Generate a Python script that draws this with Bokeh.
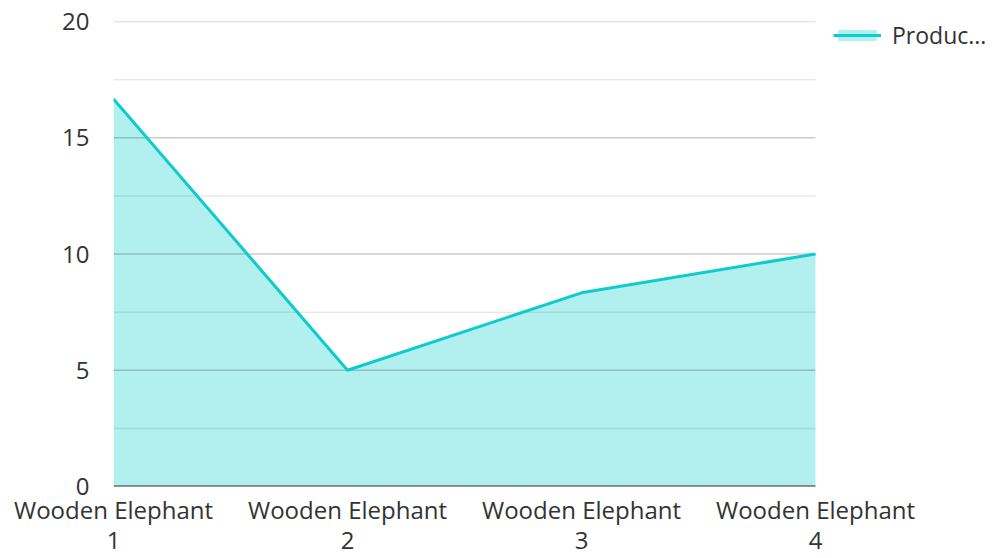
from bokeh.plotting import figure
from bokeh.models import (ColumnDataSource, FixedTicker, Range1d, Legend, LegendItem)
from bokeh.embed import file_html
from bokeh.resources import INLINE

categories = ["Wooden Elephant\n1", "Wooden Elephant\n2", "Wooden Elephant\n3", "Wooden Elephant\n4"]
values = [16.67, 5.0, 8.33, 10.0]
series_name = "Produc..."
y_ticks = [0, 5, 10, 15, 20]
y_minor = [2.5, 7.5, 12.5, 17.5]

FONT = "Open Sans"
TXT = "#333333"
LINE = "#0fcccc"
FILL = "#b2efef"

W, H = 1002, 558
LEFT, TOP, BOTTOM = 113, 21, 70
PLOT_W = 702  # pixel width from first to last category

xs = list(range(len(categories)))
x_last = xs[-1]
frame_w = W - LEFT
x_end = x_last * frame_w / PLOT_W

src = ColumnDataSource(dict(x=xs, y=values, y0=[0] * len(values)))

p = figure(width=W, height=H, output_backend="svg", toolbar_location=None,
           x_range=Range1d(0, x_end), y_range=Range1d(y_ticks[0], y_ticks[-1]),
           min_border_left=LEFT, min_border_right=0, min_border_top=TOP,
           min_border_bottom=BOTTOM)
p.outline_line_color = None
p.background_fill_color = "white"
p.xgrid.grid_line_color = None
p.ygrid.grid_line_color = None

area = p.varea(x="x", y1="y0", y2="y", source=src, fill_color=FILL, fill_alpha=1.0)

# grid lines limited to the category span
p.segment(x0=[xs[0]] * len(y_minor), x1=[x_last] * len(y_minor), y0=y_minor, y1=y_minor,
          line_color="black", line_alpha=0.09, line_width=1.5)
p.segment(x0=[xs[0]] * (len(y_ticks) - 1), x1=[x_last] * (len(y_ticks) - 1),
          y0=y_ticks[1:], y1=y_ticks[1:], line_color="black", line_alpha=0.2, line_width=1.5)
# baseline (x axis line)
p.segment(x0=[xs[0]], x1=[x_last], y0=[y_ticks[0]], y1=[y_ticks[0]],
          line_color="#333333", line_width=2)

line = p.line(x="x", y="y", source=src, line_color=LINE, line_width=3)

# axes
p.xaxis.ticker = FixedTicker(ticks=xs)
p.xaxis.major_label_overrides = {i: c for i, c in zip(xs, categories)}
p.xaxis.axis_line_color = None
p.xaxis.major_tick_line_color = None
p.xaxis.minor_tick_line_color = None
p.xaxis.major_label_standoff = 0
p.xaxis.major_label_text_font = FONT
p.xaxis.major_label_text_font_size = "24px"
p.xaxis.major_label_text_line_height = 0.92
p.xaxis.major_label_text_color = TXT

p.yaxis.ticker = FixedTicker(ticks=y_ticks)
p.yaxis.axis_line_color = None
p.yaxis.major_tick_line_color = None
p.yaxis.minor_tick_line_color = None
p.yaxis.major_label_standoff = 18
p.yaxis.major_label_text_font = FONT
p.yaxis.major_label_text_font_size = "24px"
p.yaxis.major_label_text_color = TXT

legend = Legend(items=[LegendItem(label=series_name, renderers=[area, line])],
                location=(PLOT_W + 18, 435))
legend.border_line_color = None
legend.background_fill_alpha = 0
legend.padding = 0
legend.margin = 0
legend.glyph_width = 48
legend.glyph_height = 14
legend.label_standoff = 11
legend.label_text_font = FONT
legend.label_text_font_size = "23px"
legend.label_text_color = TXT
p.add_layout(legend)

open("out.html", "w").write(file_html(p, INLINE))
